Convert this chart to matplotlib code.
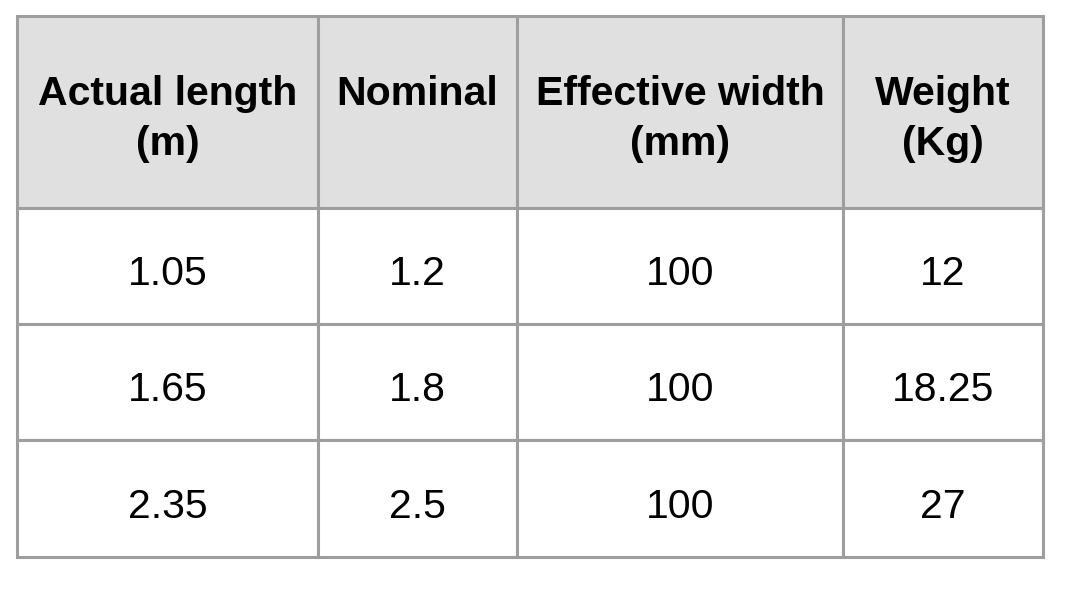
import matplotlib
matplotlib.use("Agg")
import matplotlib.pyplot as plt
from matplotlib.patches import Rectangle

headers = ["Actual length\n(m)", "Nominal", "Effective width\n(mm)", "Weight\n(Kg)"]
actual_length = ["1.05", "1.65", "2.35"]
nominal = ["1.2", "1.8", "2.5"]
effective_width = ["100", "100", "100"]
weight = ["12", "18.25", "27"]

col_edges = [17, 318, 517, 843, 1043]
row_edges = [16, 208, 324, 440, 557]

fig = plt.figure(figsize=(10.72, 5.89), dpi=100)
ax = fig.add_axes([0, 0, 1, 1])
ax.set_xlim(0, 1072)
ax.set_ylim(589, 0)
ax.axis("off")

border = "#9e9e9e"
fs = 29.5
rows = [headers] + [list(r) for r in zip(actual_length, nominal, effective_width, weight)]
for ri, row in enumerate(rows):
    y0, y1 = row_edges[ri], row_edges[ri + 1]
    for ci, txt in enumerate(row):
        x0, x1 = col_edges[ci], col_edges[ci + 1]
        xc = (x0 + x1) / 2
        ax.add_patch(Rectangle((x0, y0), x1 - x0, y1 - y0,
                               facecolor="#e0e0e0" if ri == 0 else "white",
                               edgecolor=border, linewidth=2.2))
        if ri == 0:
            for li, line in enumerate(txt.split("\n")):
                ax.text(xc, y0 + 74 + 50 * li, line, ha="center", va="center_baseline",
                        fontsize=fs, family="Liberation Sans", fontweight="bold",
                        color="black")
        else:
            ax.text(xc, (y0 + y1) / 2 + 4, txt, ha="center", va="center_baseline",
                    fontsize=fs, family="Liberation Sans", color="black")

fig.savefig("out.png", dpi=100)
